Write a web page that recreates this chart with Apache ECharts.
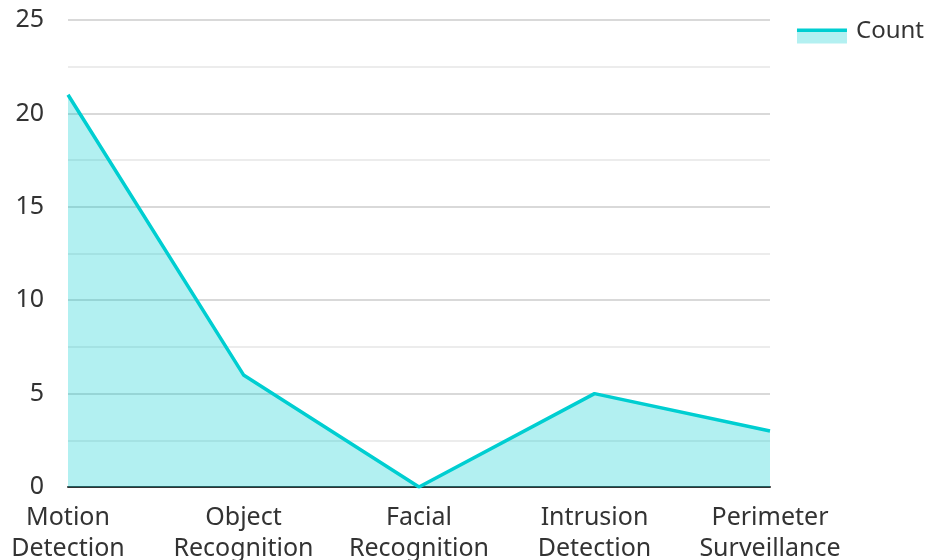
<!DOCTYPE html>
<html>
<head>
<meta charset="utf-8">
<script src="https://cdn.jsdelivr.net/npm/echarts@6/dist/echarts.min.js"></script>
<style>html,body{margin:0;padding:0;background:#fff}#c{width:927px;height:560px}</style>
</head>
<body>
<div id="c"></div>
<script>
var categories = ['Motion\nDetection', 'Object\nRecognition', 'Facial\nRecognition', 'Intrusion\nDetection', 'Perimeter\nSurveillance'];
var counts = [21, 6, 0, 5, 3];
var seriesName = 'Count';

var chart = echarts.init(document.getElementById('c'));
chart.setOption({
  animation: false,
  textStyle: { fontFamily: 'Noto Sans' },
  grid: { left: 68, right: 157, top: 20, bottom: 73, containLabel: false, outerBoundsMode: 'none' },
  legend: {
    data: [seriesName],
    right: -2,
    top: 14,
    padding: 5,
    itemWidth: 50,
    itemHeight: 15,
    itemGap: 10,
    icon: 'rect',
    itemStyle: {
      color: { type: 'linear', x: 0, y: 0, x2: 0, y2: 1, colorStops: [
        { offset: 0, color: '#00CED1' }, { offset: 0.22, color: '#00CED1' },
        { offset: 0.22, color: '#B3F0F1' }, { offset: 1, color: '#B3F0F1' } ] }
    },
    formatter: '{a|{name}}',
    textStyle: {
      fontSize: 24, color: '#333', fontFamily: 'Noto Sans',
      rich: { a: { fontSize: 24, color: '#333', fontFamily: 'Noto Sans', padding: [0, 0, 10, 4] } }
    }
  },
  xAxis: {
    type: 'category',
    data: categories,
    boundaryGap: false,
    axisLine: { lineStyle: { color: '#333', width: 2 } },
    axisTick: { show: false },
    axisLabel: { fontSize: 25, color: '#333', lineHeight: 31, margin: 15, interval: 0 }
  },
  yAxis: {
    type: 'value',
    min: 0, max: 25, interval: 5,
    axisLine: { show: false },
    axisTick: { show: false },
    axisLabel: { fontSize: 25, color: '#333', margin: 24 },
    splitLine: { lineStyle: { color: '#ccc', width: 1.5 } },
    minorTick: { show: false, splitNumber: 2 },
    minorSplitLine: { show: true, lineStyle: { color: '#e6e6e6', width: 1.5 } }
  },
  series: [{
    name: seriesName,
    type: 'line',
    data: counts,
    symbol: 'none',
    lineStyle: { color: '#00CED1', width: 3.5 },
    itemStyle: { color: '#00CED1' },
    areaStyle: { color: '#00CED1', opacity: 0.3 }
  }]
});
</script>
</body>
</html>
